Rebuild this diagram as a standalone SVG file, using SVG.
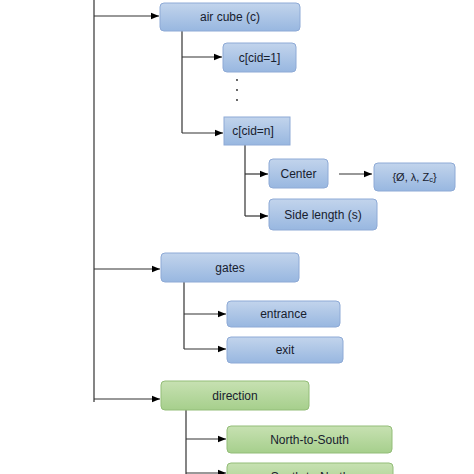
<svg xmlns="http://www.w3.org/2000/svg" width="474" height="474" viewBox="0 0 474 474">
<defs>
<linearGradient id="gb" x1="0" y1="0" x2="0" y2="1"><stop offset="0" stop-color="#c2d4ec"/><stop offset="1" stop-color="#98b7e0"/></linearGradient>
<linearGradient id="gg" x1="0" y1="0" x2="0" y2="1"><stop offset="0" stop-color="#c7e1b2"/><stop offset="1" stop-color="#a6cf8c"/></linearGradient>
<marker id="ar" viewBox="0 0 10 10" refX="10" refY="5" markerWidth="8" markerHeight="8" markerUnits="userSpaceOnUse" orient="auto"><path d="M0,1 L10,5 L0,9 z" fill="#000"/></marker>
</defs>
<style>
.b{fill:url(#gb);stroke:#8eaad6;stroke-width:1}
.g{fill:url(#gg);stroke:#93bd78;stroke-width:1}
.t{font-family:"Liberation Sans",Arial,sans-serif;font-size:12px;fill:#17202e;text-anchor:middle;dominant-baseline:central}
.l{stroke:#333;stroke-width:1.2;fill:none}
.a{stroke:#333;stroke-width:1.2;fill:none;marker-end:url(#ar)}
</style>
<rect width="474" height="474" fill="#fff"/>
<g id="connectors">
<path class="l" d="M94,0 V402"/>
<path class="a" d="M94,16 H159"/>
<path class="a" d="M94,269 H160"/>
<path class="a" d="M94,399 H160"/>
<path class="l" d="M182,31 V133"/>
<path class="a" d="M182,57 H222"/>
<path class="a" d="M182,133 H223"/>
<path class="l" d="M245,145 V216"/>
<path class="a" d="M245,174 H268"/>
<path class="a" d="M245,216 H268"/>
<path class="a" d="M339,174 H372"/>
<path class="l" d="M184,282 V349"/>
<path class="a" d="M184,314 H226"/>
<path class="a" d="M184,349 H226"/>
<path class="l" d="M186,410 V474"/>
<path class="a" d="M186,439 H226"/>
<path class="a" d="M186,473 H226"/>
</g>
<g id="dots" fill="#222"><circle cx="237" cy="80" r="0.9"/><circle cx="237" cy="90" r="0.9"/><circle cx="237" cy="100" r="0.9"/></g>
<g id="aircube"><rect class="b" x="160" y="3" width="140" height="28" rx="4"/><text class="t" x="230" y="17">air cube (c)</text></g>
<g id="cid1"><rect class="b" x="223" y="43" width="73" height="29" rx="4"/><text class="t" x="259.5" y="57.5">c[cid=1]</text></g>
<g id="cidn"><rect class="b" x="224" y="117" width="66" height="28"/><text class="t" x="253" y="131">c[cid=n]</text></g>
<g id="center"><rect class="b" x="269" y="159" width="59" height="29" rx="4"/><text class="t" x="298.5" y="173.5">Center</text></g>
<g id="coords"><rect class="b" x="374" y="163" width="81" height="28" rx="4"/><text class="t" x="414.5" y="177" style="font-size:11px">{Ø, λ, Z<tspan font-size="7.5" dy="2">c</tspan><tspan dy="-2">}</tspan></text></g>
<g id="side"><rect class="b" x="269" y="199" width="108" height="31" rx="4"/><text class="t" x="323" y="214.5">Side length (s)</text></g>
<g id="gates"><rect class="b" x="161" y="253" width="138" height="29" rx="4"/><text class="t" x="230" y="267.5">gates</text></g>
<g id="entrance"><rect class="b" x="227" y="301" width="113" height="26" rx="4"/><text class="t" x="283.5" y="314">entrance</text></g>
<g id="exit"><rect class="b" x="227" y="337" width="116" height="26" rx="4"/><text class="t" x="285" y="350">exit</text></g>
<g id="direction"><rect class="g" x="161" y="381" width="148" height="29" rx="4"/><text class="t" x="235" y="395.5">direction</text></g>
<g id="n2s"><rect class="g" x="227" y="426" width="165" height="27" rx="4"/><text class="t" x="309.5" y="439.5">North-to-South</text></g>
<g id="s2n"><rect class="g" x="227" y="463" width="166" height="27" rx="4"/><text class="t" x="310" y="476.5">South-to-North</text></g>
</svg>
